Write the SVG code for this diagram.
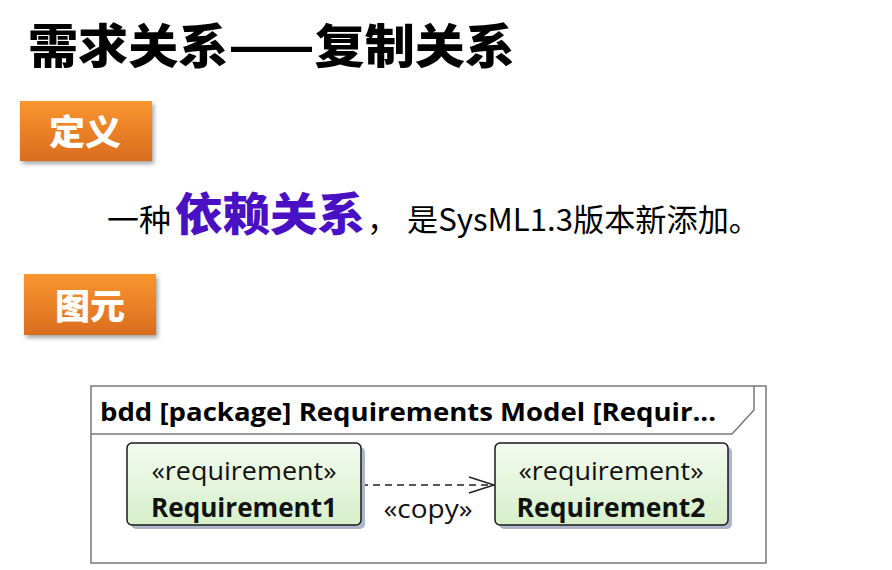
<svg xmlns="http://www.w3.org/2000/svg" width="892" height="570" viewBox="0 0 892 570">
<defs>
<linearGradient id="og" x1="0" y1="0" x2="0" y2="1">
<stop offset="0" stop-color="#F9962F"/>
<stop offset="1" stop-color="#DA6C1F"/>
</linearGradient>
<linearGradient id="gg" x1="0" y1="0" x2="0" y2="1">
<stop offset="0" stop-color="#F3FBF0"/>
<stop offset="1" stop-color="#D6EFC9"/>
</linearGradient>
<filter id="sh" x="-10%" y="-10%" width="130%" height="140%">
<feGaussianBlur in="SourceAlpha" stdDeviation="2"/>
<feOffset dx="2" dy="3"/>
<feComponentTransfer><feFuncA type="linear" slope="0.35"/></feComponentTransfer>
<feMerge><feMergeNode/><feMergeNode in="SourceGraphic"/></feMerge>
</filter>
<marker id="open" markerWidth="30" markerHeight="20" refX="26" refY="9" orient="auto" markerUnits="userSpaceOnUse">
<path d="M1,1 L26,9 L1,17" fill="none" stroke="#222" stroke-width="1.5"/>
</marker>
</defs>
<style>
.cjk{font-family:"Noto Sans CJK SC","Noto Sans",sans-serif}
.tag{font-family:"Noto Sans CJK SC",sans-serif;font-weight:900;font-size:35px;fill:#fff}
.st{font-family:"Open Sans","Noto Sans",sans-serif;font-size:26px;fill:#111;text-anchor:middle}
.nm{font-family:"Open Sans","Noto Sans",sans-serif;font-size:27px;font-weight:bold;fill:#111;text-anchor:middle}
.box{fill:url(#gg);stroke:#1a1a1a;stroke-width:1.5}
.shd{fill:#AEB6CC}
</style>
<rect width="892" height="570" fill="#fff"/>
<text x="28" y="63" class="cjk" font-size="47" font-weight="900" fill="#000" textLength="487" lengthAdjust="spacingAndGlyphs">需求关系——复制关系</text>
<g id="tag1">
<rect x="20" y="101" width="132" height="60" fill="url(#og)" filter="url(#sh)"/>
<text x="85" y="145" class="tag" text-anchor="middle" textLength="72" lengthAdjust="spacingAndGlyphs">定义</text>
</g>
<g id="tag2">
<rect x="24" y="274" width="132" height="61" fill="url(#og)" filter="url(#sh)"/>
<text x="90" y="319" class="tag" text-anchor="middle" textLength="70" lengthAdjust="spacingAndGlyphs">图元</text>
</g>
<text y="231" class="cjk" font-size="31" fill="#000"><tspan x="107" textLength="64" lengthAdjust="spacingAndGlyphs">一种</tspan><tspan x="175" font-size="45" font-weight="900" fill="#4A10C4" textLength="190" lengthAdjust="spacingAndGlyphs">依赖关系</tspan><tspan x="367">，</tspan><tspan x="407" textLength="353" lengthAdjust="spacingAndGlyphs">是SysML1.3版本新添加。</tspan></text>
<g id="frame">
<rect x="91" y="386" width="675" height="177" fill="#fff" stroke="#777" stroke-width="1.5"/>
<path d="M91,434 L732,434 L754,410 L754,386" fill="none" stroke="#777" stroke-width="1.5"/>
<text x="100" y="421" font-family="'Open Sans','Noto Sans',sans-serif" font-size="25" font-weight="bold" fill="#000" textLength="616" lengthAdjust="spacingAndGlyphs">bdd [package] Requirements Model [Requir...</text>
</g>
<g id="connectors">
<line x1="361" y1="485" x2="494" y2="485" stroke="#222" stroke-width="1.5" stroke-dasharray="7,5" marker-end="url(#open)"/>
<text x="428" y="518" class="st" textLength="89" lengthAdjust="spacingAndGlyphs">«copy»</text>
</g>
<g id="req1">
<rect x="131" y="447" width="234" height="82" rx="5" class="shd"/>
<rect x="127" y="443" width="234" height="82" rx="5" class="box"/>
<text x="244" y="480" class="st" textLength="185" lengthAdjust="spacingAndGlyphs">«requirement»</text>
<text x="244" y="517" class="nm" textLength="186" lengthAdjust="spacingAndGlyphs">Requirement1</text>
</g>
<g id="req2">
<rect x="499" y="447" width="233" height="82" rx="5" class="shd"/>
<rect x="495" y="443" width="233" height="82" rx="5" class="box"/>
<text x="611" y="480" class="st" textLength="185" lengthAdjust="spacingAndGlyphs">«requirement»</text>
<text x="611" y="517" class="nm" textLength="189" lengthAdjust="spacingAndGlyphs">Requirement2</text>
</g>
</svg>
